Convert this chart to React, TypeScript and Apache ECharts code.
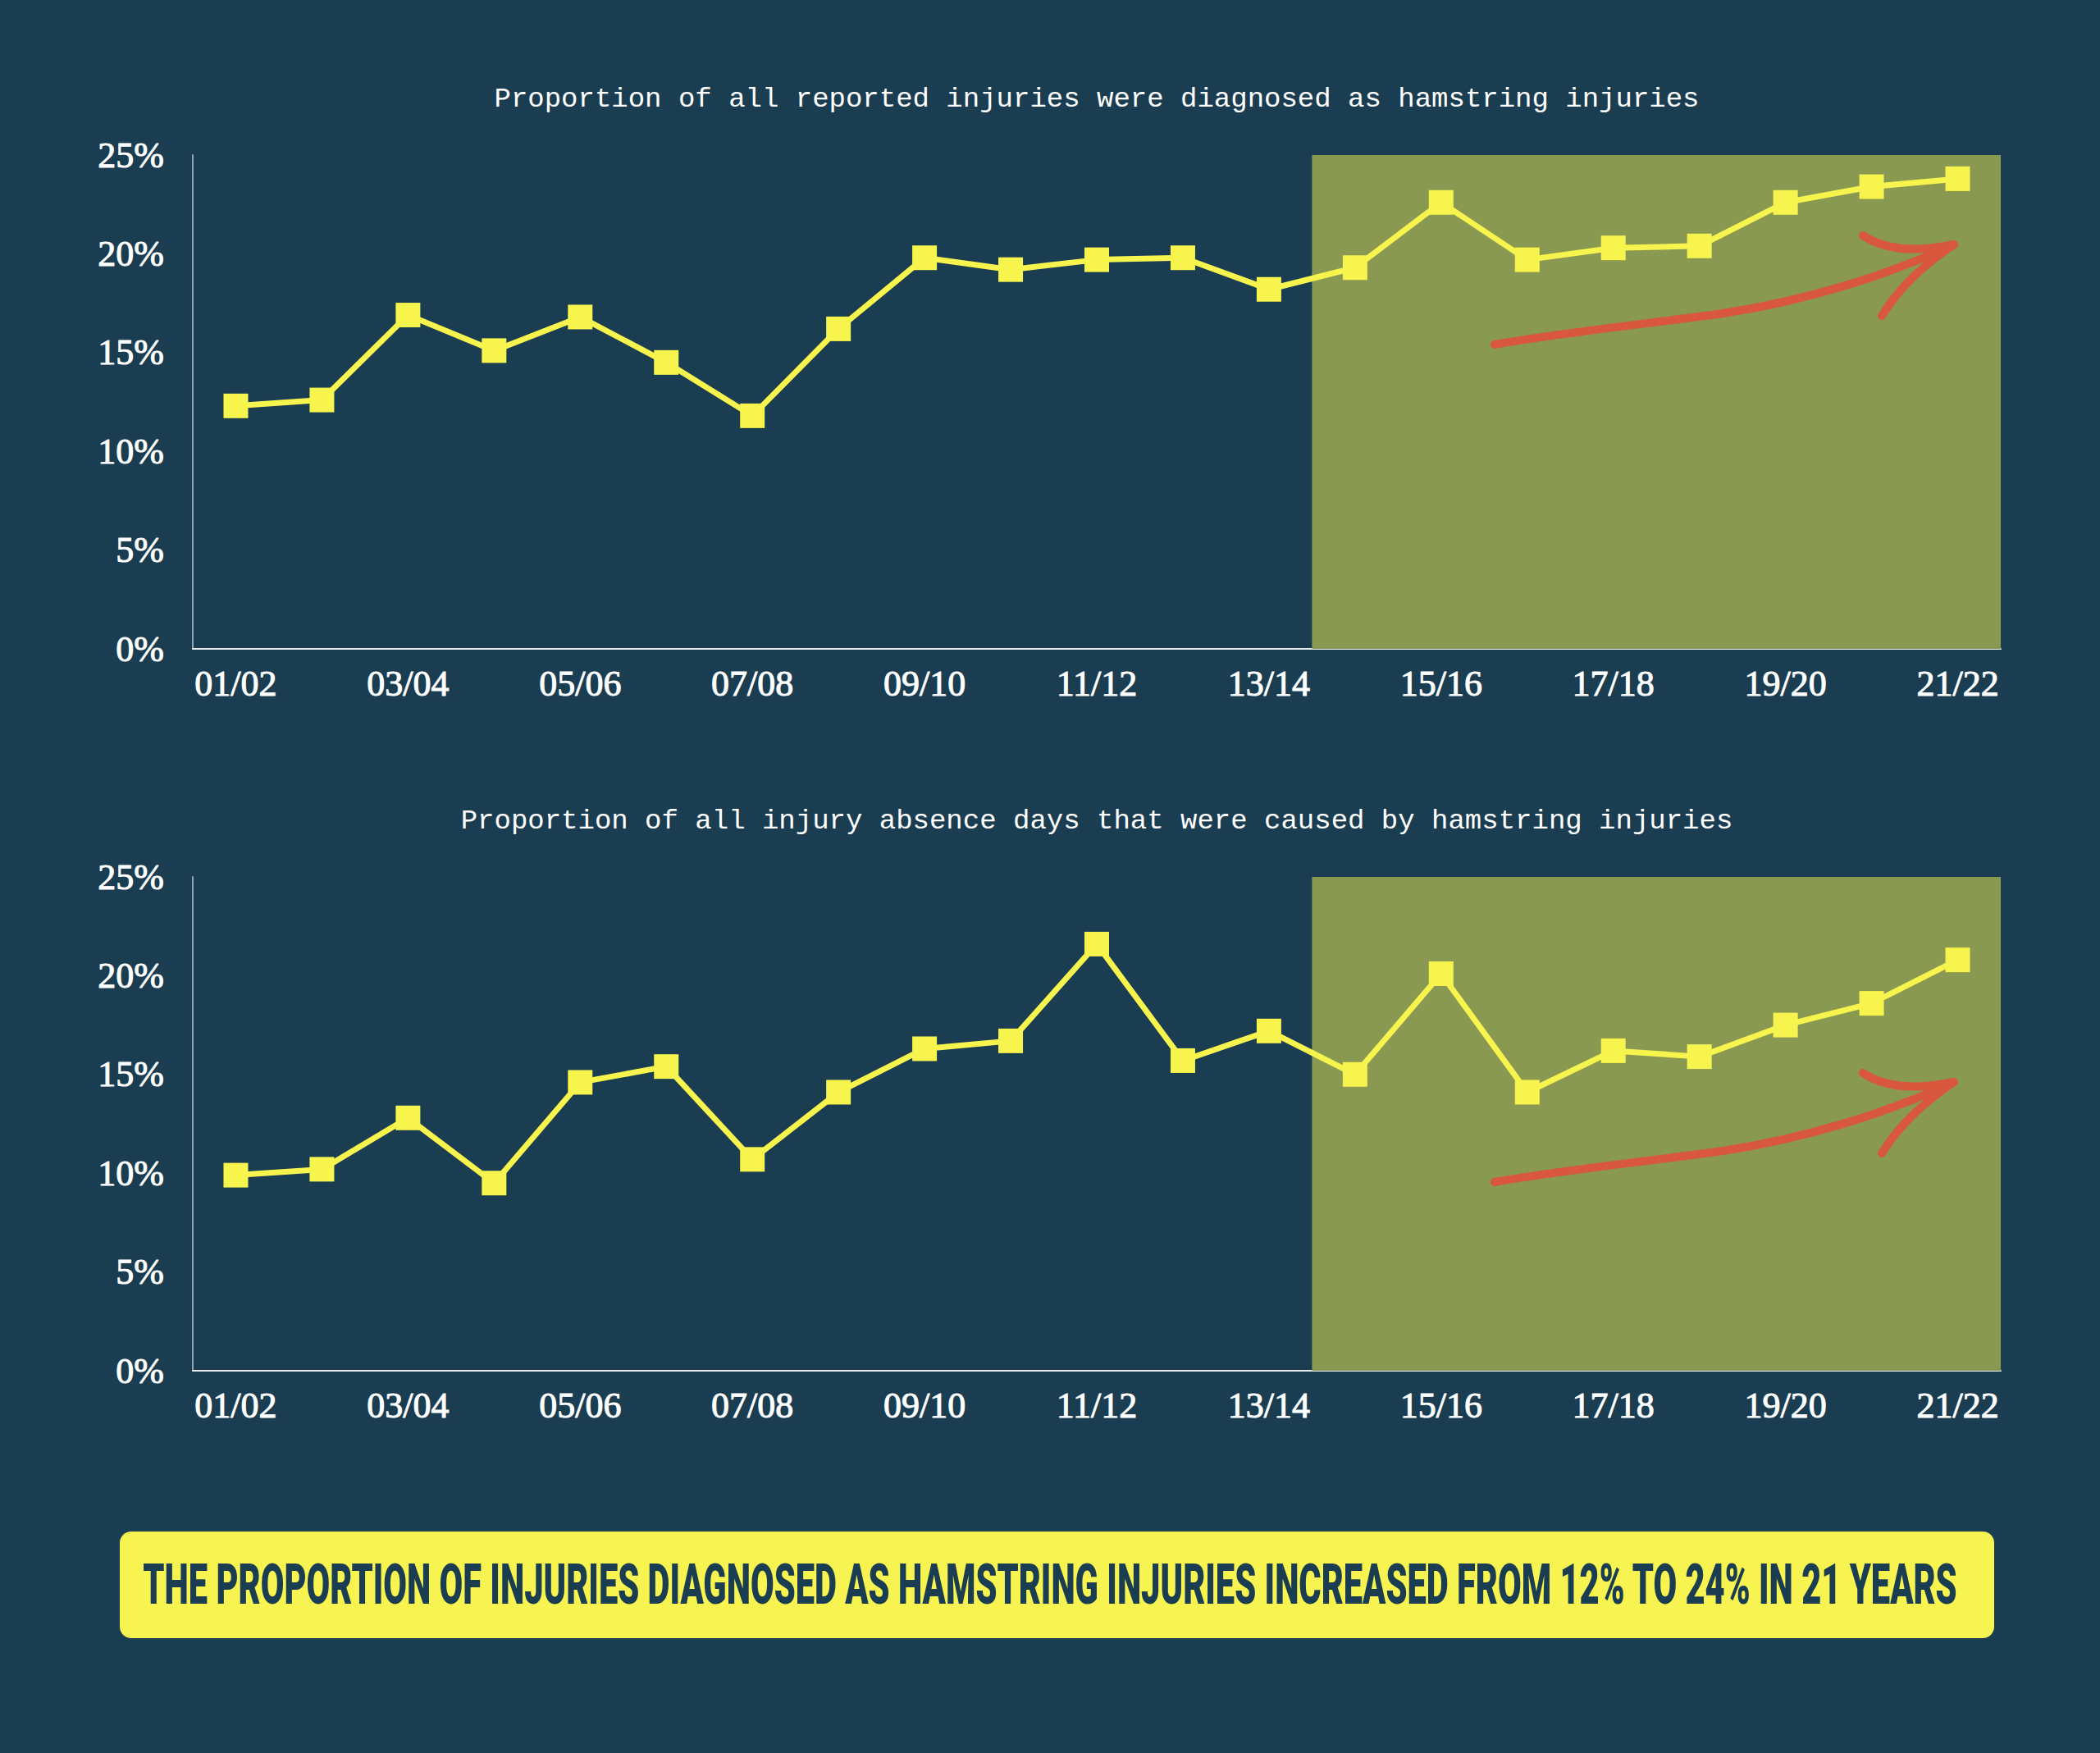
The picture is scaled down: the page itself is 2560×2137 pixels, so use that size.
import React, { useEffect, useRef } from "react";
import * as echarts from "echarts";

const SEASONS = [
  "01/02", "02/03", "03/04", "04/05", "05/06", "06/07", "07/08", "08/09", "09/10", "10/11",
  "11/12", "12/13", "13/14", "14/15", "15/16", "16/17", "17/18", "18/19", "19/20", "20/21", "21/22",
];
const REPORTED_INJURIES = [
  12.3, 12.6, 16.9, 15.1, 16.8, 14.5, 11.8, 16.2, 19.8, 19.2,
  19.7, 19.8, 18.2, 19.3, 22.6, 19.7, 20.3, 20.4, 22.6, 23.4, 23.8,
];
const ABSENCE_DAYS = [
  9.9, 10.2, 12.8, 9.5, 14.6, 15.4, 10.7, 14.1, 16.3, 16.7,
  21.6, 15.7, 17.2, 15.0, 20.1, 14.1, 16.2, 15.9, 17.5, 18.6, 20.8,
];
const Y_MIN = 0;
const Y_MAX = 25;
const Y_INTERVAL = 5;
const HIGHLIGHT_FROM = "14/15";
const HIGHLIGHT_TO = "21/22";
const TITLES = [
  "Proportion of all reported injuries were diagnosed as hamstring injuries",
  "Proportion of all injury absence days that were caused by hamstring injuries",
];
const BANNER_TEXT =
  "THE PROPORTION OF INJURIES DIAGNOSED AS HAMSTRING INJURIES INCREASED FROM 12% TO 24% IN 21 YEARS";

const BG = "#1A3D51";
const OLIVE = "#899952";
const YELLOW = "#F7F44E";
const RED = "#D9573D";

const ARROW_D =
  "M1822 420 C1900 406 2000 396 2100 382 C2200 367 2300 336 2382 298 " +
  "M2271 287 C2295 303 2330 309 2382 298 " +
  "M2294 385 C2318 346 2350 320 2382 298";

let registered = false;

export default function App() {
  const ref = useRef<HTMLDivElement>(null);

  useEffect(() => {
    if (!ref.current) return;
    if (!registered) {
      echarts.graphic.registerShape("handArrow", echarts.graphic.extendPath(ARROW_D, {}));
      registered = true;
    }
    const chart = echarts.init(ref.current, null, { renderer: "svg" });

    const bannerFont = "900 68px Roboto";
    let bannerScale = 0.56;
    try {
      const ctx = document.createElement("canvas").getContext("2d");
      if (ctx) {
        ctx.font = bannerFont;
        const w = ctx.measureText(BANNER_TEXT).width;
        if (w > 0) bannerScale = 2213 / w;
      }
    } catch (e) {}

    const grids = [
      { left: 235, top: 189, width: 2204, height: 602 },
      { left: 235, top: 1069, width: 2204, height: 602 },
    ];

    const labelFont = {
      color: "#FFFFFF",
      fontFamily: "'Liberation Serif', 'Times New Roman', serif",
      fontSize: 44,
      textBorderColor: "#FFFFFF",
      textBorderWidth: 1,
    };

    const xAxes = grids.map((_, gi) => ({
      type: "category",
      gridIndex: gi,
      data: SEASONS,
      boundaryGap: true,
      axisLine: { show: true, lineStyle: { color: "#E8ECEE", width: 2 } },
      axisTick: { show: false },
      axisLabel: { ...labelFont, interval: 1, margin: 20 },
      splitLine: { show: false },
    }));

    const yAxes = grids.map((_, gi) => ({
      type: "value",
      gridIndex: gi,
      min: Y_MIN,
      max: Y_MAX,
      interval: Y_INTERVAL,
      axisLine: { show: true, lineStyle: { color: "#8FA2AD", width: 2 } },
      axisTick: { show: false },
      splitLine: { show: false },
      axisLabel: { ...labelFont, margin: 35, formatter: "{value}%" },
    }));

    const fromIdx = SEASONS.indexOf(HIGHLIGHT_FROM);
    const toIdx = SEASONS.indexOf(HIGHLIGHT_TO);

    const datasets = [REPORTED_INJURIES, ABSENCE_DAYS];
    const series: any[] = [];
    datasets.forEach((d, gi) => {
      series.push({
        type: "custom",
        xAxisIndex: gi,
        yAxisIndex: gi,
        silent: true,
        z: 1,
        clip: false,
        encode: { x: [0, 1] },
        data: [[fromIdx, toIdx]],
        renderItem: (params: any, api: any) => {
          const s = api.value(0);
          const e = api.value(1);
          const p0 = api.coord([s, Y_MAX]);
          const p1 = api.coord([e, Y_MIN]);
          const bw = api.size([1, 0])[0];
          return {
            type: "rect",
            shape: {
              x: p0[0] - bw / 2,
              y: p0[1],
              width: p1[0] - p0[0] + bw,
              height: p1[1] - p0[1],
            },
            style: { fill: OLIVE },
          };
        },
      });
      series.push({
        type: "line",
        xAxisIndex: gi,
        yAxisIndex: gi,
        data: d,
        symbol: "rect",
        symbolSize: 30,
        lineStyle: { color: YELLOW, width: 7 },
        itemStyle: { color: YELLOW },
        z: 3,
      });
    });

    const titleStyle = {
      fill: "#FFFFFF",
      font: "34px 'Liberation Mono', 'DejaVu Sans Mono', monospace",
      align: "center",
      verticalAlign: "middle",
    };

    chart.setOption({
      animation: false,
      backgroundColor: BG,
      grid: grids,
      xAxis: xAxes,
      yAxis: yAxes,
      series,
      graphic: [
        { type: "text", x: 1337, y: 121, style: { ...titleStyle, text: TITLES[0] } },
        { type: "text", x: 1337, y: 1001, style: { ...titleStyle, text: TITLES[1] } },
        {
          type: "handArrow",
          x: 0,
          y: 0,
          z: 10,
          style: { fill: "none", stroke: RED, lineWidth: 10, lineCap: "round", lineJoin: "round" },
        },
        {
          type: "handArrow",
          x: 0,
          y: 1021,
          z: 10,
          style: { fill: "none", stroke: RED, lineWidth: 10, lineCap: "round", lineJoin: "round" },
        },
        {
          type: "rect",
          shape: { x: 146, y: 1867, width: 2285, height: 130, r: 14 },
          style: { fill: "#F7F452" },
          z: 5,
        },
        {
          type: "text",
          x: 1280,
          y: 1932,
          scaleX: bannerScale,
          z: 6,
          style: {
            text: BANNER_TEXT,
            fill: BG,
            font: bannerFont,
            align: "center",
            verticalAlign: "middle",
          },
        },
      ],
    });

    return () => chart.dispose();
  }, []);

  return (
    <div
      ref={ref}
      style={{ position: "fixed", left: 0, top: 0, width: 2560, height: 2137 }}
    />
  );
}
